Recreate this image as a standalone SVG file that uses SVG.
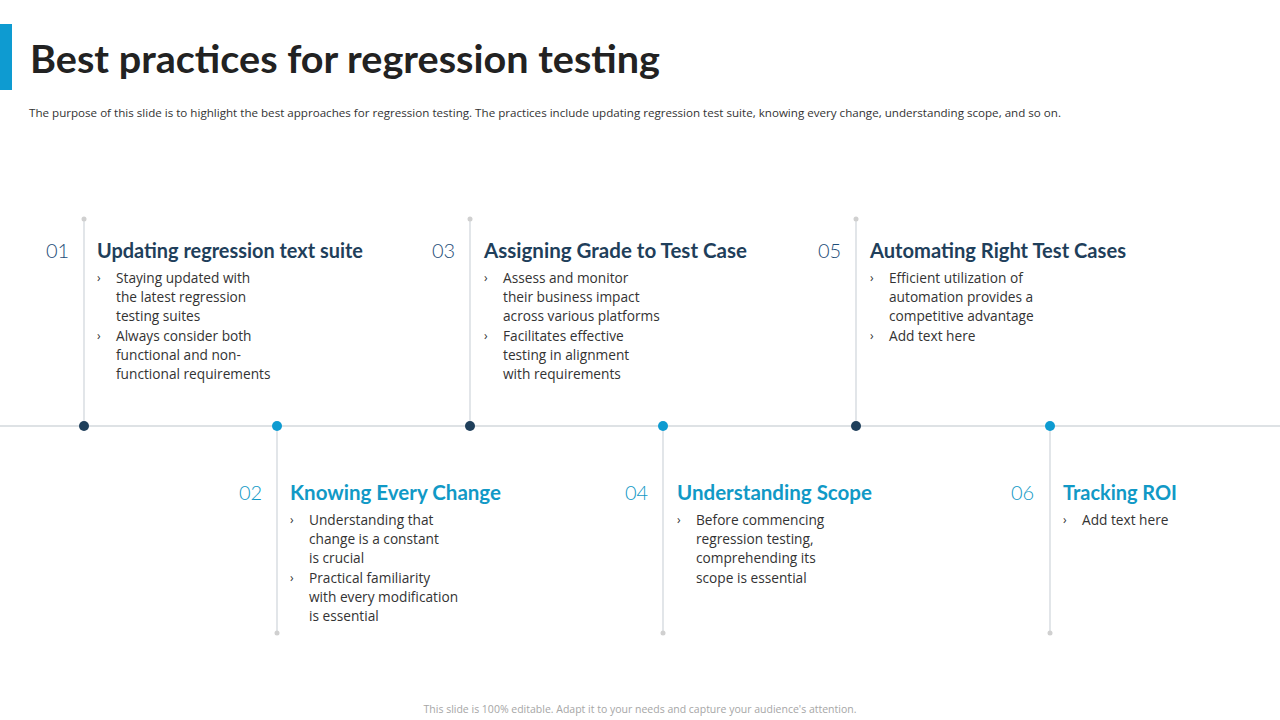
<svg xmlns="http://www.w3.org/2000/svg" width="1280" height="720" viewBox="0 0 1280 720">
<style>
.title{font-family:"Lato","Liberation Sans",sans-serif;font-weight:700;font-size:39px;fill:#222}
.sub{font-family:"Open Sans","Liberation Sans",sans-serif;font-size:11px;fill:#333}
.foot{font-family:"Open Sans","Liberation Sans",sans-serif;font-size:10.5px;fill:#a6a6a6}
.num{font-family:"Lato","Liberation Sans",sans-serif;font-weight:300;font-size:20px}
.hd{font-family:"Lato","Liberation Sans",sans-serif;font-weight:700;font-size:20px}
.dark{fill:#1f3f5b}
.blue{fill:#1199c6}
.numdark{fill:#1f4e79}
.bt{font-family:"Open Sans","Liberation Sans",sans-serif;font-size:13.7px;fill:#333}
.bul{font-family:"Open Sans","Liberation Sans",sans-serif;font-size:12px;fill:#333}
.vl{stroke:#d3d8dd;stroke-width:1.3}
.tip{fill:#d0d0d0}
</style>
<rect x="0" y="24" width="12" height="66" fill="#0e9bd1"/>
<text class="title" x="30" y="73" textLength="630" lengthAdjust="spacingAndGlyphs">Best practices for regression testing</text>
<text class="sub" x="29" y="117" textLength="1032" lengthAdjust="spacingAndGlyphs">The purpose of this slide is to highlight the best approaches for regression testing. The practices include updating regression test suite, knowing every change, understanding scope, and so on.</text>
<g id="connectors">
<line class="vl" x1="0" y1="426" x2="1280" y2="426"/>
<line class="vl" x1="84" y1="219" x2="84" y2="426"/>
<line class="vl" x1="470" y1="219" x2="470" y2="426"/>
<line class="vl" x1="856" y1="219" x2="856" y2="426"/>
<line class="vl" x1="277" y1="426" x2="277" y2="633"/>
<line class="vl" x1="663" y1="426" x2="663" y2="633"/>
<line class="vl" x1="1050" y1="426" x2="1050" y2="633"/>
<circle class="tip" cx="84" cy="219" r="2.5"/>
<circle class="tip" cx="470" cy="219" r="2.5"/>
<circle class="tip" cx="856" cy="219" r="2.5"/>
<circle class="tip" cx="277" cy="633" r="2.5"/>
<circle class="tip" cx="663" cy="633" r="2.5"/>
<circle class="tip" cx="1050" cy="633" r="2.5"/>
<circle cx="84" cy="426" r="5" fill="#1f3f5b"/>
<circle cx="470" cy="426" r="5" fill="#1f3f5b"/>
<circle cx="856" cy="426" r="5" fill="#1f3f5b"/>
<circle cx="277" cy="426" r="5" fill="#0e9bd1"/>
<circle cx="663" cy="426" r="5" fill="#0e9bd1"/>
<circle cx="1050" cy="426" r="5" fill="#0e9bd1"/>
</g>
<g id="step01">
<text class="num numdark" x="46" y="258">01</text>
<text class="hd dark" x="97" y="258" textLength="266" lengthAdjust="spacingAndGlyphs">Updating regression text suite</text>
<text class="bul" x="97" y="282">›</text>
<text class="bt" x="116" y="283">Staying updated with</text>
<text class="bt" x="116" y="302">the latest regression</text>
<text class="bt" x="116" y="321">testing suites</text>
<text class="bul" x="97" y="340">›</text>
<text class="bt" x="116" y="341">Always consider both</text>
<text class="bt" x="116" y="360">functional and non-</text>
<text class="bt" x="116" y="379">functional requirements</text>
</g>
<g id="step02">
<text class="num blue" x="239" y="500">02</text>
<text class="hd blue" x="290" y="500" textLength="211" lengthAdjust="spacingAndGlyphs">Knowing Every Change</text>
<text class="bul" x="290" y="524">›</text>
<text class="bt" x="309" y="525">Understanding that</text>
<text class="bt" x="309" y="544">change is a constant</text>
<text class="bt" x="309" y="563">is crucial</text>
<text class="bul" x="290" y="582">›</text>
<text class="bt" x="309" y="583">Practical familiarity</text>
<text class="bt" x="309" y="602">with every modification</text>
<text class="bt" x="309" y="621">is essential</text>
</g>
<g id="step03">
<text class="num numdark" x="432" y="258">03</text>
<text class="hd dark" x="484" y="258" textLength="263" lengthAdjust="spacingAndGlyphs">Assigning Grade to Test Case</text>
<text class="bul" x="484" y="282">›</text>
<text class="bt" x="503" y="283">Assess and monitor</text>
<text class="bt" x="503" y="302">their business impact</text>
<text class="bt" x="503" y="321">across various platforms</text>
<text class="bul" x="484" y="340">›</text>
<text class="bt" x="503" y="341">Facilitates effective</text>
<text class="bt" x="503" y="360">testing in alignment</text>
<text class="bt" x="503" y="379">with requirements</text>
</g>
<g id="step04">
<text class="num blue" x="625" y="500">04</text>
<text class="hd blue" x="677" y="500" textLength="195" lengthAdjust="spacingAndGlyphs">Understanding Scope</text>
<text class="bul" x="677" y="524">›</text>
<text class="bt" x="696" y="525">Before commencing</text>
<text class="bt" x="696" y="544">regression testing,</text>
<text class="bt" x="696" y="563">comprehending its</text>
<text class="bt" x="696" y="583">scope is essential</text>
</g>
<g id="step05">
<text class="num numdark" x="818" y="258">05</text>
<text class="hd dark" x="870" y="258" textLength="256" lengthAdjust="spacingAndGlyphs">Automating Right Test Cases</text>
<text class="bul" x="870" y="282">›</text>
<text class="bt" x="889" y="283">Efficient utilization of</text>
<text class="bt" x="889" y="302">automation provides a</text>
<text class="bt" x="889" y="321">competitive advantage</text>
<text class="bul" x="870" y="340">›</text>
<text class="bt" x="889" y="341">Add text here</text>
</g>
<g id="step06">
<text class="num blue" x="1011" y="500">06</text>
<text class="hd blue" x="1063" y="500" textLength="114" lengthAdjust="spacingAndGlyphs">Tracking ROI</text>
<text class="bul" x="1063" y="524">›</text>
<text class="bt" x="1082" y="525">Add text here</text>
</g>
<text class="foot" x="640" y="713" text-anchor="middle">This slide is 100% editable. Adapt it to your needs and capture your audience's attention.</text>
</svg>
